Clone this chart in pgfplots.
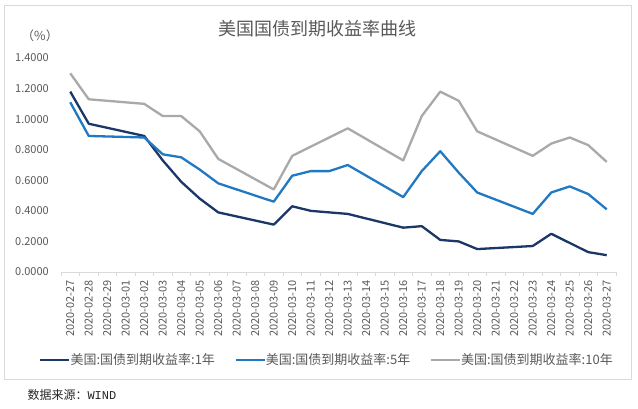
\documentclass[border=0pt]{standalone}
\usepackage{fontspec}
\setmainfont{Noto Sans CJK SC}
\newfontfamily\monofont{Liberation Mono}
\usepackage{pgfplots}
\usepackage{pgfplotstable}
\pgfplotsset{compat=1.18}
\definecolor{navy}{HTML}{1B3768}
\definecolor{midblue}{HTML}{2179C2}
\definecolor{lgray}{HTML}{A9A9A9}
\definecolor{txtgray}{HTML}{595959}
\definecolor{axgray}{HTML}{D9D9D9}
\pgfplotstableread{
idx y1 y5 y10
0 1.18 1.11 1.30
1 0.97 0.89 1.13
4 0.89 0.88 1.10
5 0.73 0.77 1.02
6 0.59 0.75 1.02
7 0.48 0.67 0.92
8 0.39 0.58 0.74
11 0.31 0.46 0.54
12 0.43 0.63 0.76
13 0.40 0.66 0.82
14 0.39 0.66 0.88
15 0.38 0.70 0.94
18 0.29 0.49 0.73
19 0.30 0.66 1.02
20 0.21 0.79 1.18
21 0.20 0.65 1.12
22 0.15 0.52 0.92
25 0.17 0.38 0.76
26 0.25 0.52 0.84
27 0.19 0.56 0.88
28 0.13 0.51 0.83
29 0.11 0.41 0.72
}\yields
\begin{document}
\begin{tikzpicture}
\useasboundingbox (0,0) rectangle (638pt,408pt);
\fill[white] (0,0) rectangle (638pt,408pt);
\draw[axgray, line width=0.8pt] (4pt,29pt) rectangle (631pt,403pt);
\node[txtgray, font=\fontsize{18}{20}\selectfont] at (317.5pt,379pt) {美国国债到期收益率曲线};
\node[txtgray, font=\fontsize{12.5}{14}\selectfont] at (40pt,372pt) {（\%）};
\node[anchor=west, font=\fontsize{12}{14}\selectfont, text=black!85] at (24pt,13pt) {数据来源：{\monofont WIND}};
\begin{axis}[
  at={(61pt,136pt)}, anchor=south west,
  scale only axis, width=555pt, height=214pt,
  xmin=-0.5, xmax=29.5, ymin=0, ymax=1.4,
  axis x line*=bottom, axis y line*=left,
  y axis line style={draw=none},
  x axis line style={draw=axgray, line width=0.8pt, -},
  xtick={0,...,29},
  xticklabels={2020-02-27,2020-02-28,2020-02-29,2020-03-01,2020-03-02,2020-03-03,2020-03-04,2020-03-05,2020-03-06,2020-03-07,2020-03-08,2020-03-09,2020-03-10,2020-03-11,2020-03-12,2020-03-13,2020-03-14,2020-03-15,2020-03-16,2020-03-17,2020-03-18,2020-03-19,2020-03-20,2020-03-21,2020-03-22,2020-03-23,2020-03-24,2020-03-25,2020-03-26,2020-03-27},
  major tick length=0pt,
  extra x ticks={-0.5,0.5,...,29.5},
  extra x tick labels={},
  extra x tick style={major tick length=4pt, tick align=outside, tick style={draw=axgray, line width=0.8pt}},
  xticklabel style={rotate=90, anchor=east, inner sep=0pt, xshift=-8pt, font=\fontsize{11}{12}\selectfont, text=txtgray},
  ytick={0,0.2,...,1.4},
  yticklabel style={anchor=east, inner sep=0pt, xshift=-12pt, font=\fontsize{11}{12}\selectfont, text=txtgray, /pgf/number format/.cd, fixed, fixed zerofill, precision=4, assume math mode=true},
  legend columns=3,
  legend style={at={(axis description cs:-0.0396,-0.411)}, anchor=west, draw=none, fill=none, inner sep=0pt,
    font=\fontsize{13}{14}\selectfont, text=txtgray,
    nodes={inner sep=0pt, anchor=west},
    /tikz/column sep=0pt},
  legend image code/.code={\draw[#1] (0pt,0pt) -- (29pt,0pt);},
  every axis plot/.append style={line width=2.3pt, line join=round},
]
\addplot[navy, line width=2.3pt] table[x=idx, y=y1] {\yields};
\addlegendentry{\makebox[164pt][l]{美国:国债到期收益率:1年}}
\addplot[midblue, line width=2.3pt] table[x=idx, y=y5] {\yields};
\addlegendentry{\makebox[164pt][l]{美国:国债到期收益率:5年}}
\addplot[lgray, line width=2.3pt] table[x=idx, y=y10] {\yields};
\addlegendentry{美国:国债到期收益率:10年}
\end{axis}
\end{tikzpicture}
\end{document}
